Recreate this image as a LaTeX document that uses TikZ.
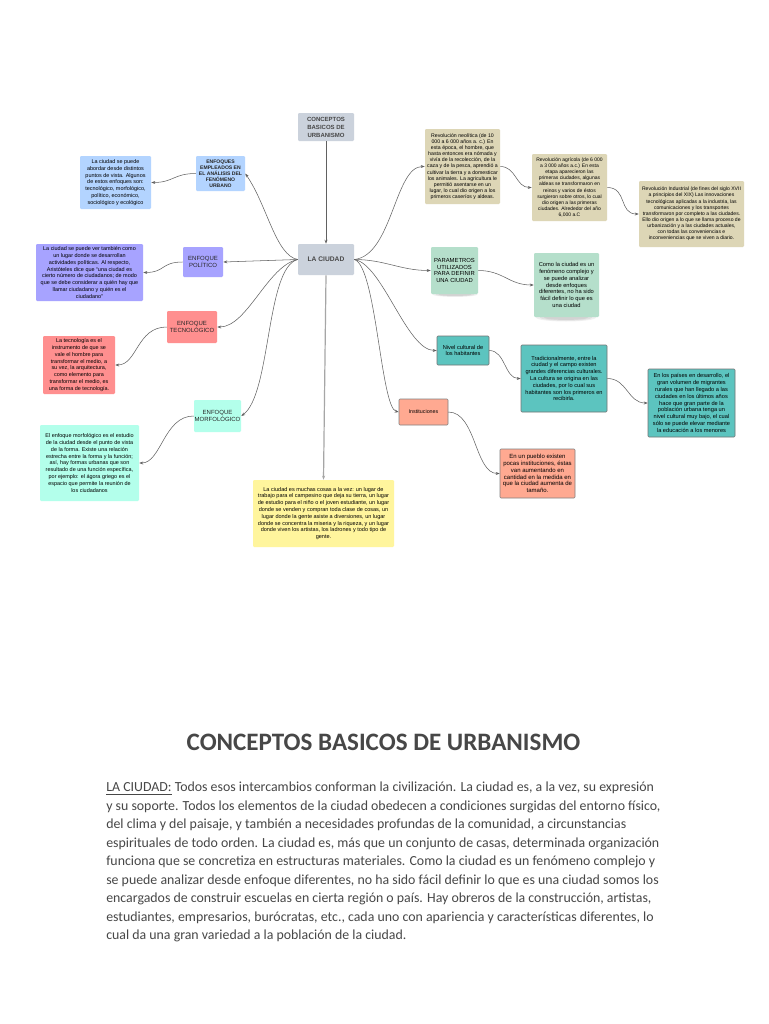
\documentclass[tikz,border=0pt]{standalone}
\usepackage{fontspec}
\setmainfont{Liberation Sans}
\newfontfamily\bodyfont{Carlito}
\usetikzlibrary{arrows.meta}
\newcommand\bx[7]{%
  \pgfmathsetmacro\bxw{(#5-#3)*0.75}%
  \pgfmathsetmacro\bxh{(#6-#4)*0.75}%
  \node[#2,minimum width=\bxw pt,minimum height=\bxh pt] (#1) at ({(#3+#5)/2},{(#4+#6)/2}) {#7};}
\tikzset{
  x=0.75pt,y=-0.75pt,
  box/.style={rectangle,rounded corners=0.8pt,inner sep=0pt,align=center,
    font=\fontsize{4.1}{5.1}\selectfont,text=black},
  head/.style={box,font=\fontsize{3.8}{4.5}\selectfont\bfseries,text=black!85},
  grey/.style={box,fill=cgrey,font=\fontsize{4.5}{6}\selectfont\bfseries,text=black!72},
  label/.style={font=\fontsize{4.5}{5.2}\selectfont,text=black!85},
  blue/.style={fill=cblue},
  purple/.style={fill=cpurple},
  red/.style={fill=cred},
  mint/.style={fill=cmint},
  yellowbox/.style={fill=cyellow},
  tan/.style={fill=ctan},
  green/.style={fill=cgreen},
  teal/.style={fill=cteal,draw=black!55,line width=0.4pt,font=\fontsize{4.25}{5.1}\selectfont},
  salmon/.style={fill=csalmon,draw=black!50,line width=0.4pt,font=\fontsize{4.5}{5.1}\selectfont},
  link/.style={draw=black!62,line width=0.4pt,-{Stealth[length=3pt,width=2.2pt]}},
  solidlink/.style={link,line width=0.7pt},
  softshadow/.style={fill=black,opacity=0.06},
}
\definecolor{cgrey}{HTML}{CBD2DC}
\definecolor{cblue}{HTML}{B3D4FF}
\definecolor{cpurple}{HTML}{A7A3FF}
\definecolor{cred}{HTML}{FF8F8F}
\definecolor{cmint}{HTML}{B3FFEB}
\definecolor{cyellow}{HTML}{FFF59D}
\definecolor{ctan}{HTML}{DDD6B6}
\definecolor{cgreen}{HTML}{B5DFCB}
\definecolor{cteal}{HTML}{5CC4BF}
\definecolor{csalmon}{HTML}{FFA991}
\begin{document}
\begin{tikzpicture}
\useasboundingbox (0,0) rectangle (768,1024);
\fill[white] (0,0) rectangle (768,1024);
% shadows
\foreach \w/\h in {30/4,26/3.2,22/2.4}{
  \fill[softshadow] (566,317.5) ellipse ({\w} and {\h});
  \fill[softshadow] (455,294.5) ellipse ({\w*0.75} and {\h*0.6});
}
\bx{conc}{grey}{298}{113}{354}{141}{CONCEPTOS\\BASICOS DE\\URBANISMO}
\bx{city}{grey,font=\fontsize{5}{6}\selectfont\bfseries}{298}{244}{354}{275}{LA CIUDAD}
\bx{enf}{head,blue}{196}{156}{245}{191}{ENFOQUES\\EMPLEADOS EN\\EL ANÁLISIS DEL\\FENÓMENO\\URBANO}
\bx{enft}{box,blue}{80}{156}{151}{209}{La ciudad se puede\\abordar desde distintos\\puntos de vista. Algunos\\de estos enfoques son:\\tecnológico, morfológico,\\político, económico,\\sociológico y ecológico}
\bx{pol}{box,purple,label}{183}{247}{223}{277}{ENFOQUE\\POLÍTICO}
\bx{polt}{box,purple}{36}{244}{143}{301}{La ciudad se puede ver también como\\un lugar donde se desarrollan\\actividades políticas. Al respecto,\\Aristóteles dice que ``una ciudad es\\cierto número de ciudadanos; de modo\\que se debe considerar a quién hay que\\llamar ciudadano y quién es el\\ciudadano''}
\bx{tec}{box,red,label}{167}{311}{217}{343}{ENFOQUE\\TECNOLÓGICO}
\bx{tect}{box,red}{43}{336}{115}{394}{La tecnología es el\\instrumento de que se\\vale el hombre para\\transformar el medio, a\\su vez, la arquitectura,\\como elemento para\\transformar el medio, es\\una forma de tecnología.}
\bx{mor}{box,mint,label}{194}{400}{241}{432}{ENFOQUE\\MORFOLÓGICO}
\bx{mort}{box,mint}{40}{425}{139}{501}{El enfoque morfológico es el estudio\\de la ciudad desde el punto de vista\\de la forma. Existe una relación\\estrecha entre la forma y la función;\\así, hay formas urbanas que son\\resultado de una función específica,\\por ejemplo: el ágora griego es el\\espacio que permite la reunión de\\los ciudadanos}
\bx{yel}{box,yellowbox,font=\fontsize{4.15}{5.1}\selectfont}{253}{480}{394}{547}{La ciudad es muchas cosas a la vez: un lugar de\\trabajo para el campesino que deja su tierra, un lugar\\de estudio para el niño o el joven estudiante, un lugar\\donde se venden y compran toda clase de cosas, un\\lugar donde la gente asiste a diversiones, un lugar\\donde se concentra la miseria y la riqueza, y un lugar\\donde viven los artistas, los ladrones y todo tipo de\\gente.}
\bx{inst}{box,salmon,font=\fontsize{4}{5}\selectfont}{399}{399}{448}{425}{Instituciones}
\bx{instt}{box,salmon}{500}{449}{575}{498}{En un pueblo existen\\pocas instituciones, éstas\\van aumentando en\\cantidad en la medida en\\que la ciudad aumenta de\\tamaño.}
\bx{niv}{box,teal}{437}{336}{489}{365}{Nivel cultural de\\los habitantes}
\bx{nivt}{box,teal}{521}{345}{607}{412}{Tradicionalmente, entre la\\ciudad y el campo existen\\grandes diferencias culturales.\\La cultura se origina en las\\ciudades, por lo cual sus\\habitantes son los primeros en\\recibirla.}
\bx{nivu}{box,teal}{648}{369}{735}{437}{En los países en desarrollo, el\\gran volumen de migrantes\\rurales que han llegado a las\\ciudades en los últimos años\\hace que gran parte de la\\población urbana tenga un\\nivel cultural muy bajo, el cual\\sólo se puede elevar mediante\\la educación a los menores}
\bx{par}{box,green,font=\fontsize{4.4}{5.1}\selectfont}{431}{247}{478}{294}{PARAMETROS\\UTILIZADOS\\PARA DEFINIR\\UNA CIUDAD}
\bx{como}{box,green,font=\fontsize{4.3}{5.1}\selectfont}{534}{253}{599}{317}{Como la ciudad es un\\fenómeno complejo y\\se puede analizar\\desde enfoques\\diferentes, no ha sido\\fácil definir lo que es\\una ciudad}
\bx{neo}{box,tan,font=\fontsize{3.9}{4.62}\selectfont}{425}{129}{500}{204}{Revolución neolítica (de 10\\000 a 6 000 años a. c.) En\\esta época, el hombre, que\\hasta entonces era nómada y\\vivía de la recolección, de la\\caza y de la pesca, aprendió a\\cultivar la tierra y a domesticar\\los animales. La agricultura le\\permitió asentarse en un\\lugar, lo cual dio origen a los\\primeros caseríos y aldeas.}
\bx{agr}{box,tan,font=\fontsize{3.75}{4.62}\selectfont}{532}{154}{607}{221}{Revolución agrícola (de 6 000\\a 3 000 años a.c.) En esta\\etapa aparecieron las\\primeras ciudades, algunas\\aldeas se transformaron en\\reinos y varios de éstos\\surgieron sobre otros, lo cual\\dio origen a las primeras\\ciudades. Alrededor del año\\6,000 a.C}
\bx{ind}{box,tan,font=\fontsize{3.8}{4.62}\selectfont}{639}{181}{744}{247}{Revolución Industrial (de fines del siglo XVII\\a principios del XIX) Las innovaciones\\tecnológicas aplicadas a la industria, las\\comunicaciones y los transportes\\transformaron por completo a las ciudades.\\Ello dio origen a lo que se llama proceso de\\urbanización y a las ciudades actuales,\\con todas las conveniencias e\\inconveniencias que se viven a diario.}
% connectors
\draw[solidlink] (conc.south) -- (city.north);
\draw[solidlink,draw=black!35,line width=0.9pt] (city.south) -- (yel.north);
\draw[link] (city.west) .. controls +(-22,-4) and +(22,32) .. (enf.east);
\draw[link] (city.west) -- (pol.east);
\draw[link] (city.west) .. controls +(-30,6) and +(30,0) .. (tec.east);
\draw[link] (city.west) .. controls +(-32,8) and +(30,-22) .. (mor.east);
\draw[link] (city.east) .. controls +(38,-4) and +(-30,0) .. (neo.west);
\draw[link] (city.east) .. controls +(30,0) and +(-30,0) .. (par.west);
\draw[link] (city.east) .. controls +(28,4) and +(-30,0) .. (niv.west);
\draw[link] (city.east) .. controls +(22,6) and +(-18,-4) .. (inst.west);
\draw[link] (enf.west) .. controls +(-22,0) and +(22,0) .. (enft.east);
\draw[link] (pol.west) .. controls +(-22,0) and +(22,0) .. (polt.east);
\draw[link] (tec.west) .. controls +(-30,0) and +(22,0) .. (tect.east);
\draw[link] (mor.west) .. controls +(-30,0) and +(22,0) .. (mort.east);
\draw[link] (neo.east) .. controls +(16,0) and +(-16,0) .. (agr.west);
\draw[link] (agr.east) .. controls +(20,0) and +(-20,0) .. (ind.west);
\draw[link] (par.east) .. controls +(25,0) and +(-25,0) .. (como.west);
\draw[link] (niv.east) .. controls +(16,0) and +(-16,0) .. (nivt.west);
\draw[link] (nivt.east) .. controls +(20,0) and +(-20,0) .. (nivu.west);
\draw[link] (inst.east) .. controls +(28,0) and +(-25,0) .. (instt.west);
% document text
\node[inner sep=0pt,text=black!72] (title) at (383.5,742) {\bodyfont\fontsize{18.8}{20}\selectfont\bfseries CONCEPTOS BASICOS DE URBANISMO};
\node[inner sep=0pt,anchor=north west,align=left,text=black!72,font=\bodyfont\fontsize{10.4}{13.85}\selectfont] (body) at (106,782) {\underline{LA CIUDAD:} Todos esos intercambios conforman la civilización. La ciudad es, a la vez, su expresión\\y su soporte. Todos los elementos de la ciudad obedecen a condiciones surgidas del entorno físico,\\del clima y del paisaje, y también a necesidades profundas de la comunidad, a circunstancias\\espirituales de todo orden. La ciudad es, más que un conjunto de casas, determinada organización\\funciona que se concretiza en estructuras materiales. Como la ciudad es un fenómeno complejo y\\se puede analizar desde enfoque diferentes, no ha sido fácil definir lo que es una ciudad somos los\\encargados de construir escuelas en cierta región o país. Hay obreros de la construcción, artistas,\\estudiantes, empresarios, burócratas, etc., cada uno con apariencia y características diferentes, lo\\cual da una gran variedad a la población de la ciudad.};
\end{tikzpicture}
\end{document}
